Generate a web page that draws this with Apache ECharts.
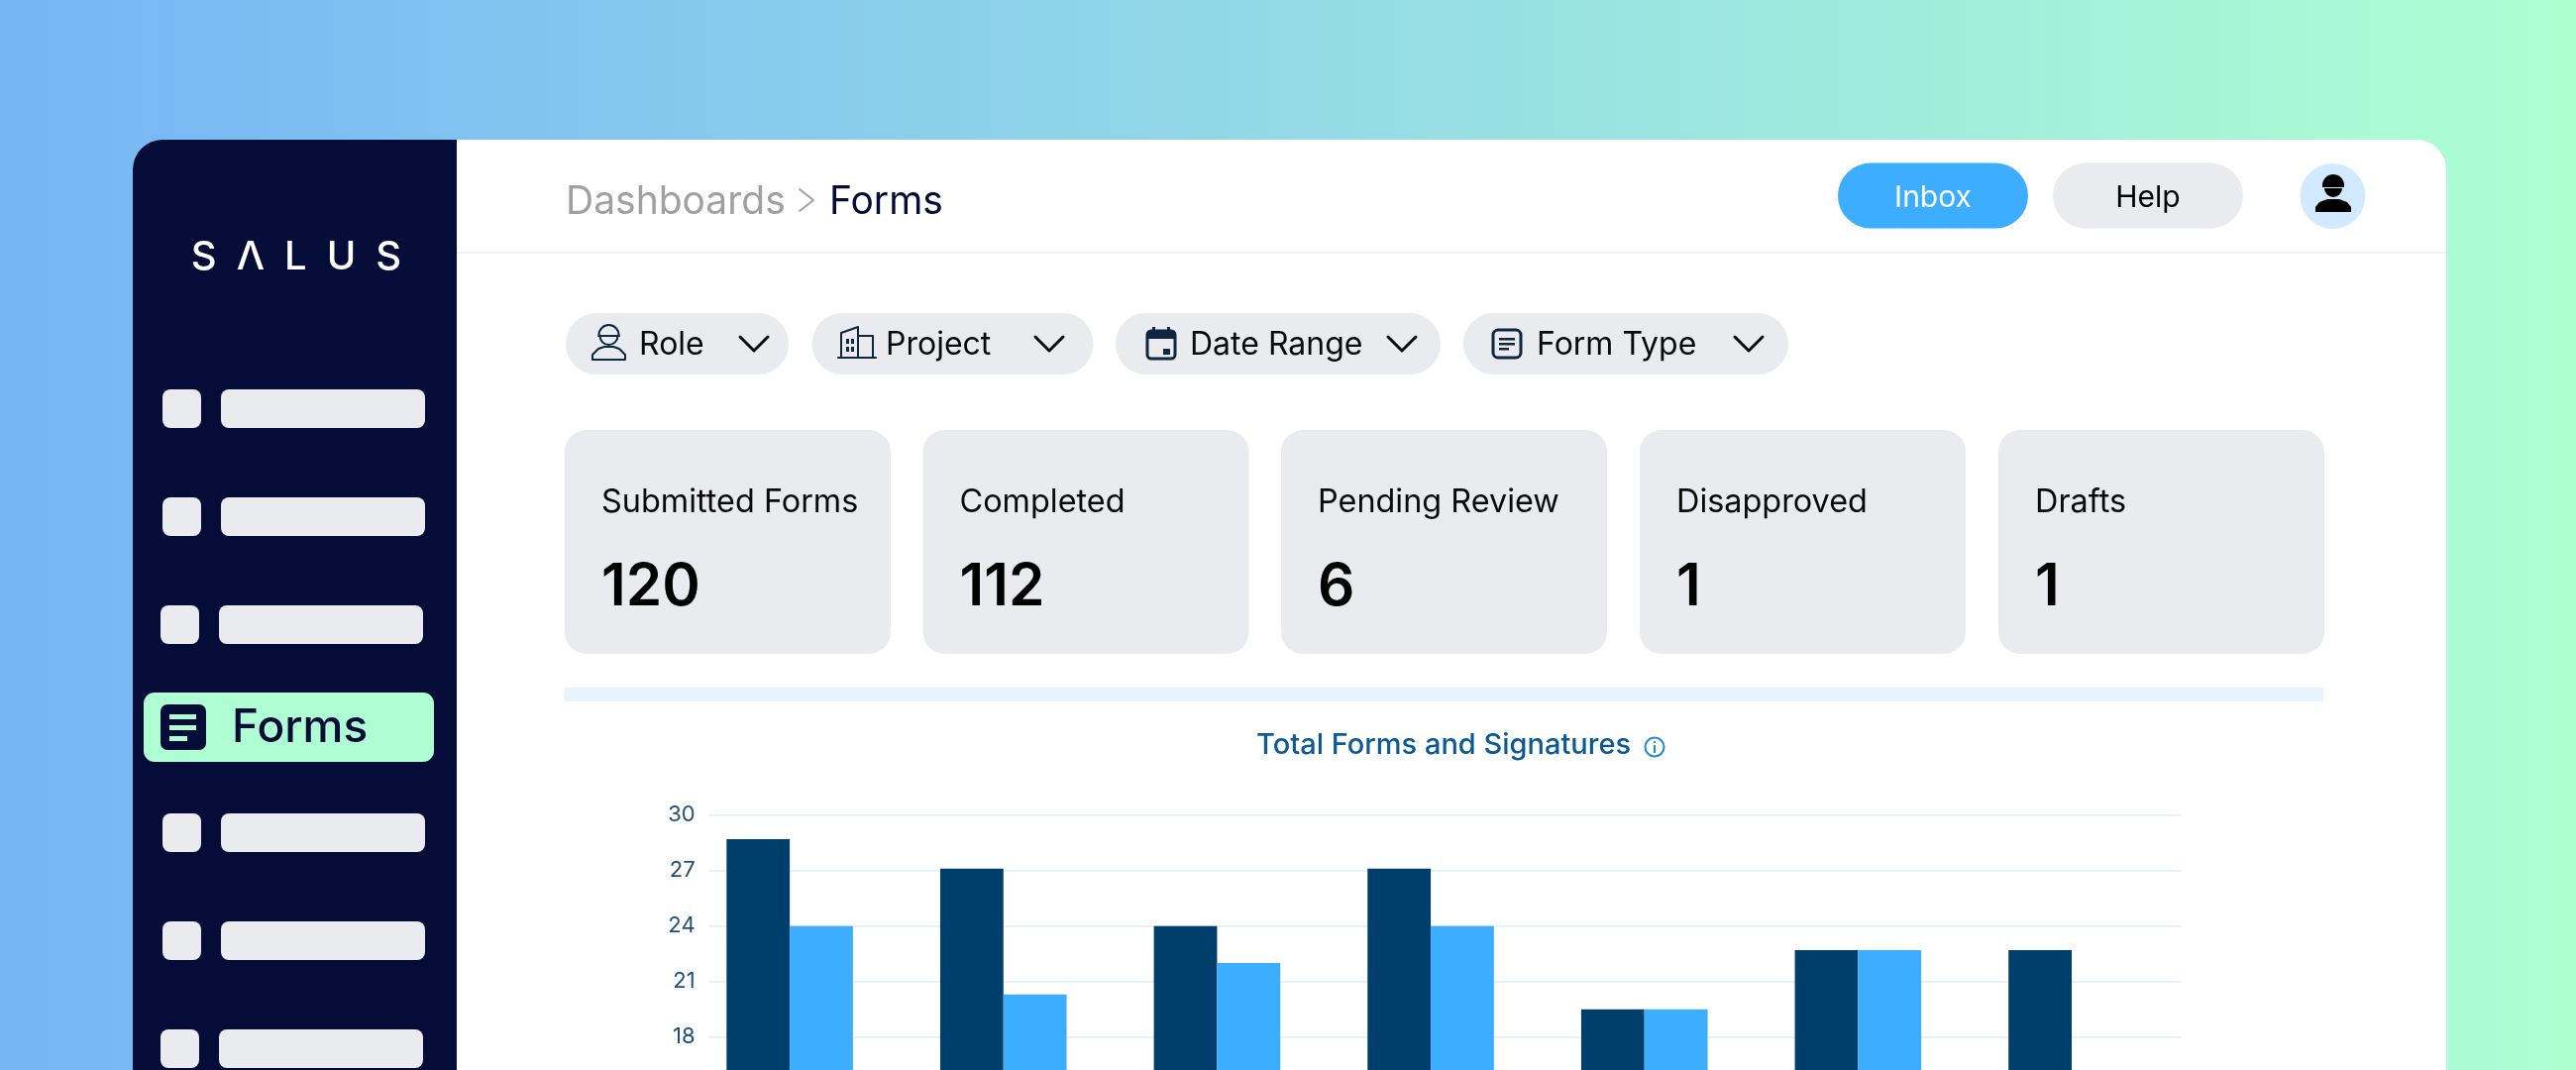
<!DOCTYPE html>
<html>
<head>
<meta charset="utf-8">
<title>Forms</title>
<style>
  html, body { margin: 0; padding: 0; background: #fff; overflow: hidden; }
  #wrap { width: 2600px; height: 1080px; overflow: hidden; }
  #main { width: 2600px; height: 1200px; }
</style>
<script src="https://cdn.jsdelivr.net/npm/echarts@6/dist/echarts.min.js"></script>
</head>
<body>
<div id="wrap"><div id="main"></div></div>
<script>
// chart data (x labels are cut off in the picture, so groups are only numbered)
var groupIndex = [0, 1, 2, 3, 4, 5, 6];
var totalForms = [28.7, 27.1, 24, 27.1, 19.5, 22.7, 22.7];
var signatures = [24, 20.3, 22, 24, 19.5, 22.7, null];

// page texts
var kpiLabels = ['Submitted Forms', 'Completed', 'Pending Review', 'Disapproved', 'Drafts'];
var kpiValues = ['120', '112', '6', '1', '1'];
var filterLabels = ['Role', 'Project', 'Date Range', 'Form Type'];

var NAVY = '#050C37', GREY = '#EAEBEF', ICON = '#0F2540', BLUE = '#3DAEFF', DARK = '#003F6B';
var els = [];

function rect(x, y, w, h, r, fill) {
    els.push({ type: 'rect', z: -1, shape: { x: x, y: y, width: w, height: h, r: r }, style: { fill: fill } });
}
function txt(x, y, text, size, weight, fill, align) {
    els.push({ type: 'text', z: -1, x: x, y: y, style: {
        text: text, fill: fill, textAlign: align || 'left', textVerticalAlign: 'middle',
        font: weight + ' ' + size + 'px Inter'
    } });
}
function line(points, color, width, closed) {
    els.push({ type: closed ? 'polygon' : 'polyline', z: -1, shape: { points: points },
        style: { fill: closed ? 'none' : null, stroke: color, lineWidth: width, lineCap: 'round', lineJoin: 'round' } });
}
function solid(points, fill) {
    els.push({ type: 'polygon', z: -1, shape: { points: points }, style: { fill: fill } });
}
function arc(cx, cy, r, a0, a1, color, width) {
    els.push({ type: 'arc', z: -1, shape: { cx: cx, cy: cy, r: r, startAngle: a0, endAngle: a1, clockwise: true },
        style: { fill: null, stroke: color, lineWidth: width } });
}
function disc(cx, cy, r, fill) {
    els.push({ type: 'circle', z: -1, shape: { cx: cx, cy: cy, r: r }, style: { fill: fill } });
}
function halfDisc(cx, cy, r, a0, a1, fill) {
    els.push({ type: 'sector', z: -1, shape: { cx: cx, cy: cy, r: r, r0: 0, startAngle: a0, endAngle: a1, clockwise: true }, style: { fill: fill } });
}
function chevron(x0, x1, y0, y1, color, width) {
    line([[x0, y0], [(x0 + x1) / 2, y1], [x1, y0]], color, width);
}

// --- background and panel ---
els.push({ type: 'rect', z: -1, shape: { x: 0, y: 0, width: 2600, height: 1200 }, style: {
    fill: new echarts.graphic.LinearGradient(0, 0, 1, 0, [
        { offset: 0, color: '#76B5F6' }, { offset: 0.5, color: '#93DAE6' }, { offset: 1, color: '#AEFFD2' }
    ])
} });
rect(134, 141, 2335, 1059, [30, 30, 0, 0], '#FFFFFF');
rect(134, 141, 327, 1059, [30, 0, 0, 0], NAVY);
rect(461, 254, 2008, 2, 0, '#EEF1F5');

// --- sidebar ---
txt(299, 260, 'S\u2002Λ\u2002L\u2002U\u2002S', 40, 500, '#FFFFFF', 'center');
var navRows = [[164, 393], [164, 502], [162, 611], [164, 821], [164, 930], [162, 1039]];
navRows.forEach(function (r) {
    rect(r[0], r[1], 39, 39, 8, GREY);
    rect(r[0] + 59, r[1], 206, 39, 8, GREY);
});
rect(145, 699, 293, 70, 11, '#AFFED3');
rect(162, 711, 46, 46, 7, NAVY);
rect(171, 721, 27, 5, 0, '#AFFED3');
rect(171, 732, 27, 5, 0, '#AFFED3');
rect(171, 743, 18, 5, 0, '#AFFED3');
txt(234, 735, 'Forms', 46, 500, NAVY);

// --- header ---
txt(571, 204.5, 'Dashboards', 39, 400, '#A0A0A0');
line([[807, 191], [821, 202], [807, 213]], '#A0A0A0', 2);
txt(837, 204.5, 'Forms', 39, 400, NAVY);
rect(1855, 164.5, 192, 66, 33, BLUE);
txt(1951, 199.5, 'Inbox', 30, 400, '#FFFFFF', 'center');
rect(2072, 164.5, 192, 66, 33, GREY);
txt(2168, 199.5, 'Help', 30, 400, '#000000', 'center');

disc(2354.5, 198, 33, '#D2EAFF');
halfDisc(2355, 187, 11, Math.PI, Math.PI * 2, '#000');
rect(2344, 186, 22, 3, 0, '#000');
halfDisc(2355, 190, 9, 0, Math.PI, '#000');
solid([[2337, 214], [2337, 209], [2341, 204], [2349, 201], [2361, 201], [2369, 204], [2373, 209], [2373, 214]], '#000');

// --- filters ---
var filterBoxes = [[571, 225], [819.5, 284], [1126, 328], [1477, 328]];
var filterTextX = [645, 894, 1201, 1551];
var filterChevronX = [747, 1045, 1401, 1751];
filterBoxes.forEach(function (b, i) {
    rect(b[0], 316, b[1], 62, 31, GREY);
    txt(filterTextX[i], 348, filterLabels[i], 32, 400, '#0A0A0A');
    chevron(filterChevronX[i], filterChevronX[i] + 28, 340, 354, '#0A0A0A', 3);
});
// role icon
arc(614.5, 338, 10, Math.PI, Math.PI * 2, ICON, 2);
line([[604, 339], [625, 339]], ICON, 2);
arc(614.5, 339, 9, 0, Math.PI, ICON, 2);
line([[598, 363], [598, 358], [604, 352], [610, 350], [619, 350], [625, 352], [631, 358], [631, 363]], ICON, 2, true);
// project icon
line([[846, 361], [884, 361]], ICON, 2);
line([[849, 361], [849, 336], [866, 330], [866, 361]], ICON, 2);
line([[866, 339], [881, 339], [881, 361]], ICON, 2);
[[854, 342], [859, 342], [854, 350], [859, 350]].forEach(function (p) { rect(p[0], p[1], 3, 5, 0, ICON); });
// date icon
els.push({ type: 'rect', z: -1, shape: { x: 1158, y: 334, width: 28, height: 28, r: 4 }, style: { fill: 'none', stroke: ICON, lineWidth: 3 } });
rect(1158, 334, 28, 8, [4, 4, 0, 0], ICON);
rect(1163, 330, 3, 6, 0, ICON);
rect(1178, 330, 3, 6, 0, ICON);
rect(1174, 352, 7, 6, 0, ICON);
// form type icon
els.push({ type: 'rect', z: -1, shape: { x: 1507, y: 333, width: 28, height: 28, r: 5 }, style: { fill: 'none', stroke: ICON, lineWidth: 3 } });
rect(1513, 341, 16, 2.5, 0, ICON);
rect(1513, 346, 16, 2.5, 0, ICON);
rect(1513, 351, 10, 2.5, 0, ICON);

// --- kpi cards ---
var cardX = [570, 931.5, 1293, 1655, 2017];
cardX.forEach(function (x, i) {
    rect(x, 434, 329, 226, 22, GREY);
    txt(x + 37, 507, kpiLabels[i], 32.4, 400, '#0A0A0A');
    txt(x + 37, 593.5, kpiValues[i], 58.5, 600, '#000000');
});

// --- chart header ---
rect(570, 694, 1775, 14, 0, '#E6F4FE');
txt(1268, 752, 'Total Forms and Signatures', 29, 500, '#0B5A94');
els.push({ type: 'circle', z: -1, shape: { cx: 1670, cy: 754, r: 9.5 }, style: { fill: 'none', stroke: '#1C8AD0', lineWidth: 2 } });
rect(1669, 752, 2, 8, 0, '#1C8AD0');
rect(1669, 748, 2, 2, 0, '#1C8AD0');

var myChart = echarts.init(document.getElementById('main'), null, { renderer: 'canvas' });
myChart.setOption({
    animation: false,
    graphic: { elements: els },
    grid: { left: 715.6, top: 822.7, width: 1485.4, height: 280 },
    xAxis: {
        type: 'value', min: -0.378, max: 6.51,
        axisLine: { show: false }, axisTick: { show: false }, axisLabel: { show: false }, splitLine: { show: false }
    },
    yAxis: {
        type: 'value', min: 15, max: 30, interval: 3,
        axisLine: { show: false }, axisTick: { show: false },
        axisLabel: { margin: 14, fontSize: 22, fontFamily: 'Inter', color: '#1F5078', showMinLabel: false },
        splitLine: { lineStyle: { color: '#E8F1F8', width: 2 } }
    },
    series: [
        {
            name: 'Total Forms', type: 'bar', barWidth: 63.8, barGap: '0%',
            itemStyle: { color: DARK },
            data: groupIndex.map(function (g, i) { return [g, totalForms[i]]; })
        },
        {
            name: 'Signatures', type: 'bar', barWidth: 63.8, barGap: '0%',
            itemStyle: { color: BLUE },
            data: groupIndex.map(function (g, i) { return [g, signatures[i]]; })
        }
    ]
});
</script>
</body>
</html>
